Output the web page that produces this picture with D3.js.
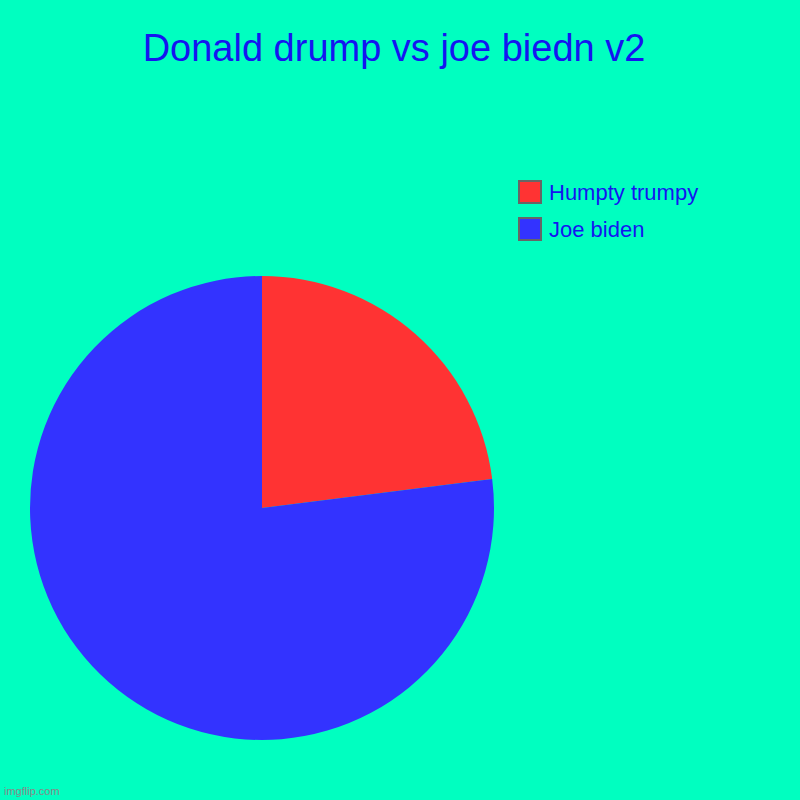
<!DOCTYPE html>
<html lang="en">
    <head>
        <title>Donald drump vs joe biedn v2</title>
        <meta charset="utf-8">
        <script src="https://d3js.org/d3.v7.min.js"></script>
        <style>
            body {
                margin: 0;
                padding: 0;
                background-color: #00ffc0;
                font-family: "Liberation Sans", Arial, sans-serif;
            }
        </style>
    </head>
    <body>
    <div id="container"></div>
    <script>
        const chartTitle = "Donald drump vs joe biedn v2";
        const labels = ["Humpty trumpy", "Joe biden"];
        const values = [23, 77];
        const colors = ["#ff3333", "#3333ff"];

        const w = 800;
        const h = 800;
        const textColor = "#1515f0";

        const svg = d3.select("#container")
            .append("svg")
            .attr("width", w)
            .attr("height", h);

        svg.append("rect")
            .attr("width", w)
            .attr("height", h)
            .attr("fill", "#00ffc0");

        svg.append("text")
            .attr("x", w / 2 - 6)
            .attr("y", 61)
            .attr("text-anchor", "middle")
            .attr("fill", textColor)
            .attr("font-size", 38)
            .text(chartTitle);

        const pie = d3.pie().sort(null).value(d => d);
        const arc = d3.arc().innerRadius(0).outerRadius(232);

        const pieG = svg.append("g")
            .attr("transform", "translate(262, 508)");

        pieG.selectAll("path")
            .data(pie(values))
            .enter()
            .append("path")
            .attr("d", arc)
            .attr("fill", (d, i) => colors[i]);

        const legend = svg.append("g")
            .attr("transform", "translate(519, 181)");

        const rowY = d3.scaleBand()
            .domain(labels)
            .range([0, 74]);

        legend.selectAll("rect")
            .data(labels)
            .enter().append("rect")
            .attr("x", 0)
            .attr("y", d => rowY(d))
            .attr("width", 22)
            .attr("height", 22)
            .attr("fill", (d, i) => colors[i])
            .attr("stroke", "#666666")
            .attr("stroke-width", 2);

        legend.selectAll("text")
            .data(labels)
            .enter().append("text")
            .attr("x", 30)
            .attr("y", d => rowY(d) + 19)
            .attr("fill", textColor)
            .attr("font-size", 22)
            .text(d => d);

        svg.append("text")
            .attr("x", 4)
            .attr("y", 795)
            .attr("fill", "#888888")
            .attr("font-size", 11)
            .text("imgflip.com");
    </script>
    </body>
</html>
